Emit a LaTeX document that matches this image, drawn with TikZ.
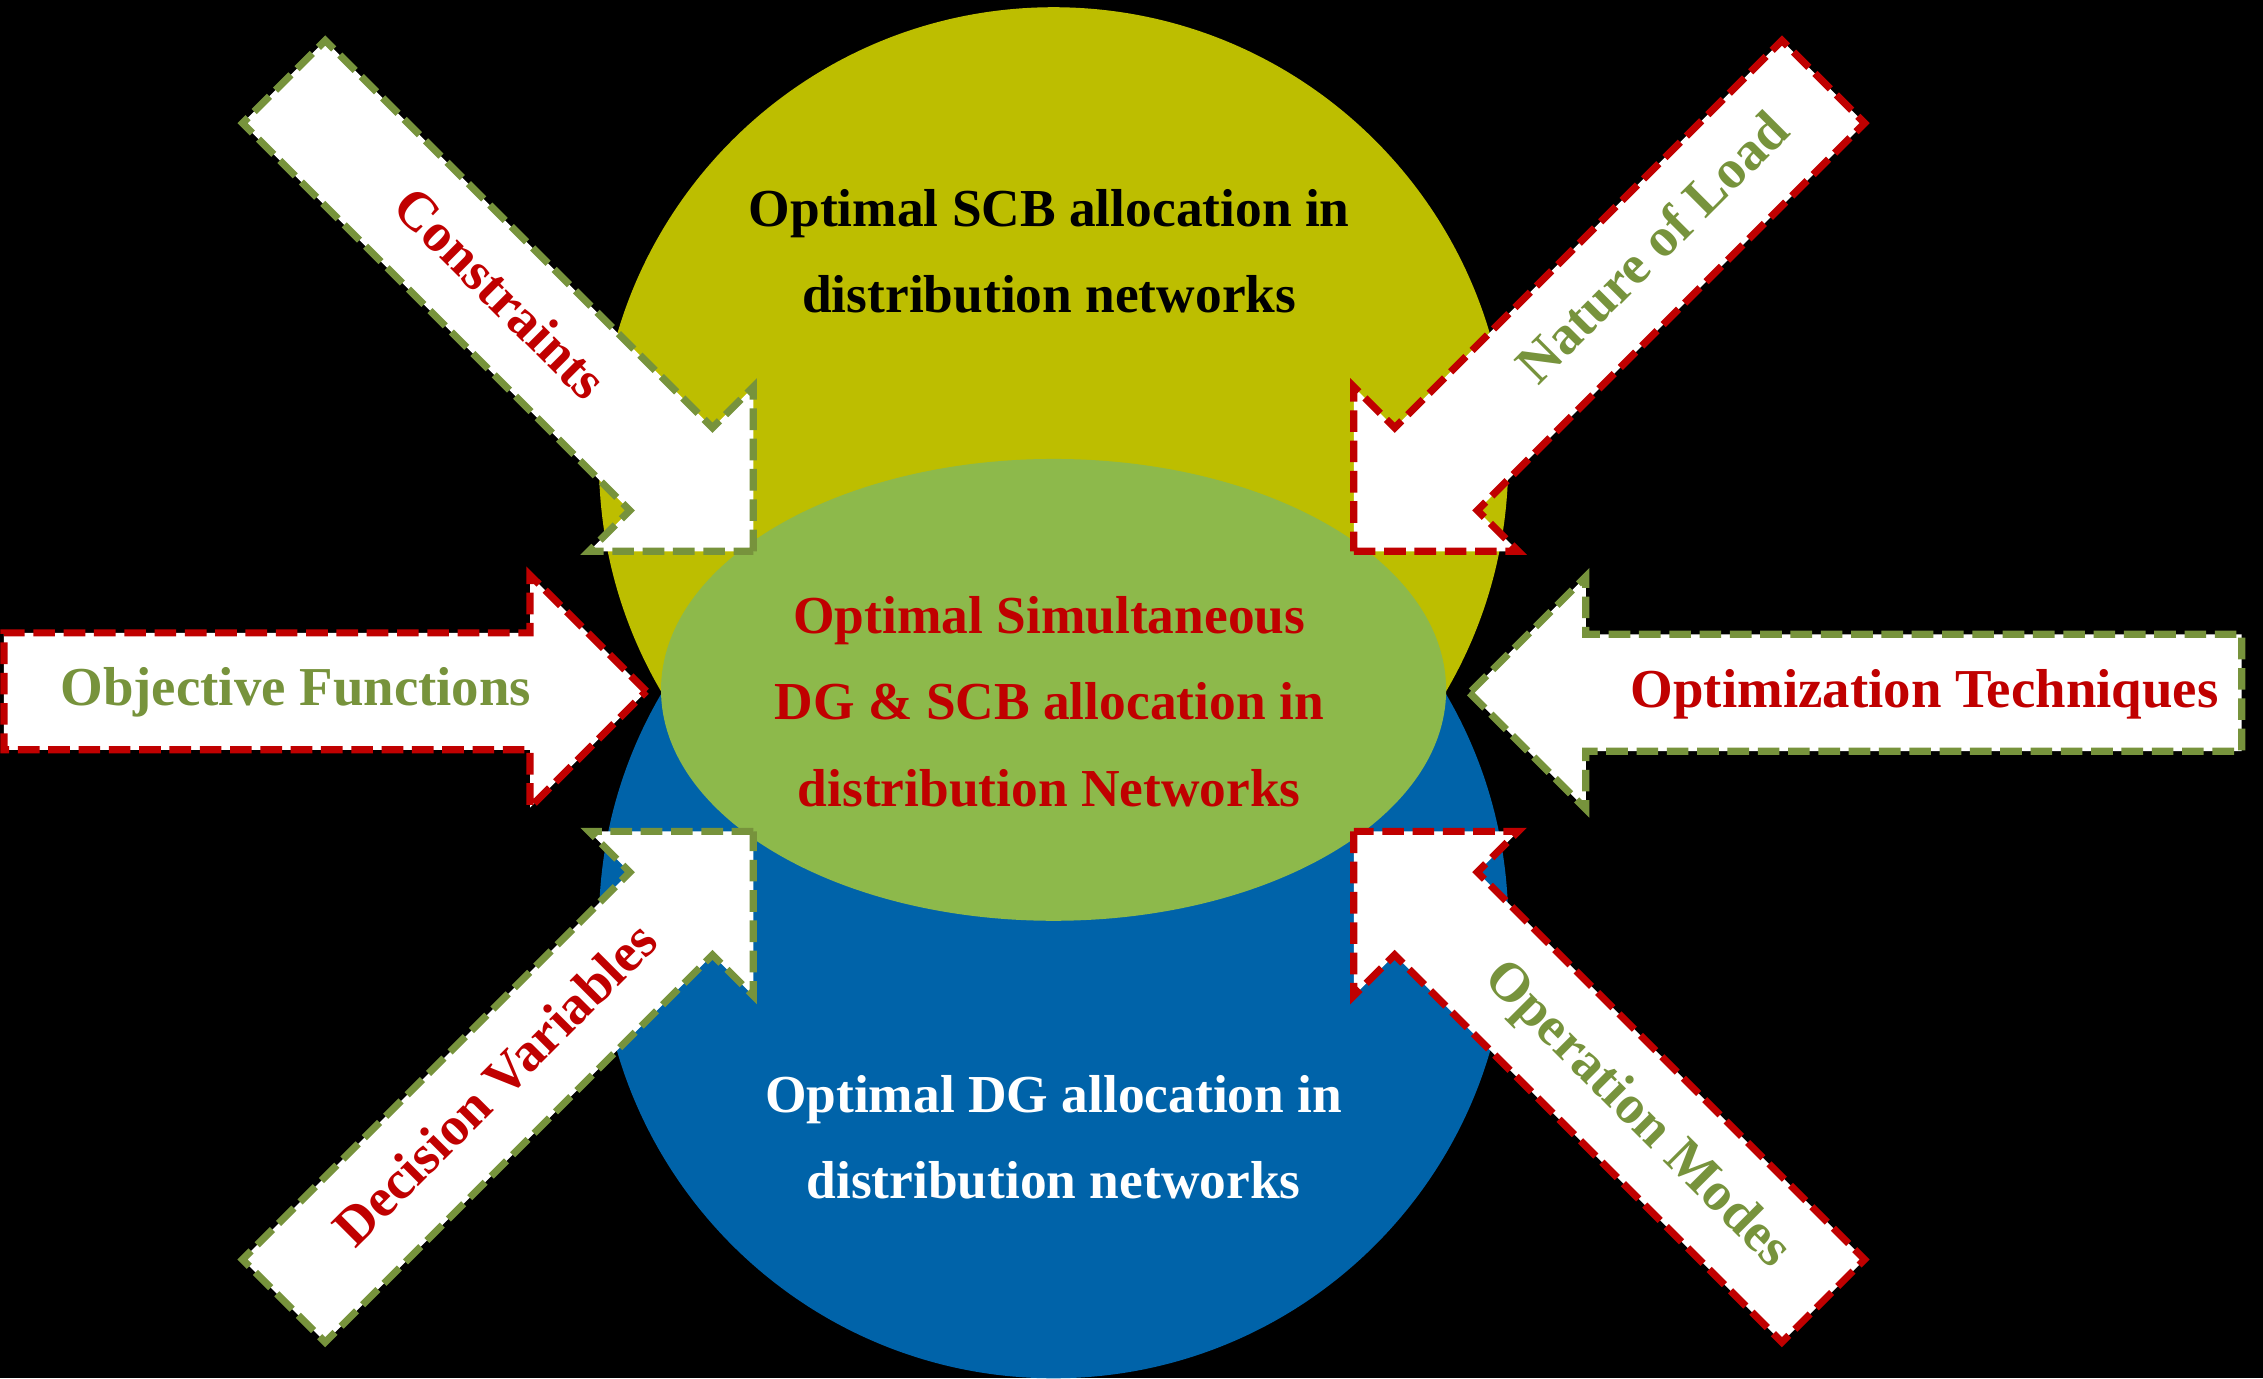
\documentclass[tikz,border=0pt]{standalone}
\usepackage{fontspec}
\setmainfont{Liberation Serif}
\usetikzlibrary{shapes.arrows}
\definecolor{olivey}{HTML}{BDBE00}
\definecolor{blueb}{HTML}{0063A9}
\definecolor{greenm}{HTML}{8DB94B}
\definecolor{redt}{HTML}{C00000}
\definecolor{greenb}{HTML}{77933C}
\tikzset{
 blk/.style={single arrow, fill=white, line width=5pt, dash pattern=on 15pt off 6pt,
   single arrow head indent=0pt, inner xsep=0pt, inner ysep=20pt, text height=28pt, text depth=8pt,
   minimum width=158, single arrow head extend=40,
   font=\fontsize{38}{42}\selectfont\bfseries},
 gb/.style={draw=greenb, text=redt},
 rb/.style={draw=redt, text=greenb},
 ctext/.style={font=\fontsize{37}{60}\selectfont\bfseries, align=center}
}
\begin{document}
\begin{tikzpicture}[x=1pt,y=-1pt]
\fill[black] (0,0) rectangle (1568,955);
\useasboundingbox (0,0) rectangle (1568,955);
\fill[olivey] (730,320) circle (315);
\fill[blueb] (730,640) circle (315);
\fill[greenm] (730,478) ellipse (272 and 160);
\node[ctext, text=black] (t1) at (727,174) {Optimal SCB allocation in\\distribution networks};
\node[ctext, text=redt] (t2) at (727,486) {Optimal Simultaneous\\DG \& SCB allocation in\\distribution Networks};
\node[ctext, text=white] (t3) at (730,788) {Optimal DG allocation in\\distribution networks};
% horizontal arrows
\node[blk, rb, minimum height=445] (a1) at (205,479) {Objective Functions\hspace{60pt}};
\node[blk, gb, minimum height=535, shape border rotate=180] (a2) at (1306,480) {\hspace{55pt}Optimization Techniques};
% diagonal arrows
\node[blk, gb, minimum height=460, rotate=-45] (a3) at (345,205) {Constraints\hspace{90pt}};
\node[blk, rb, minimum height=460, rotate=45, shape border rotate=180] (a4) at (1115,205) {\hspace{90pt}Nature of Load};
\node[blk, gb, minimum height=460, rotate=45] (a5) at (345,753) {Decision Variables\hspace{55pt}};
\node[blk, rb, minimum height=460, rotate=-45, shape border rotate=180] (a6) at (1115,753) {\hspace{55pt}Operation Modes};
\end{tikzpicture}
\end{document}
